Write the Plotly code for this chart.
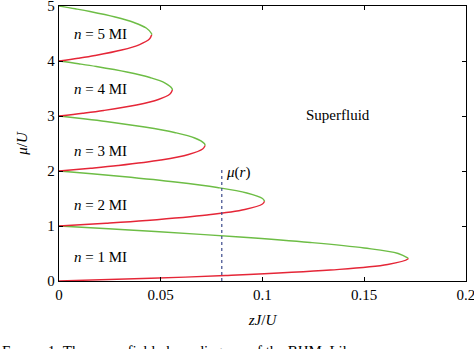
import plotly.graph_objects as go

# Mott-insulator lobe boundaries (chemical potential mu/U vs. critical hopping zJ/U)
lobe1_mu = [0.0, 0.05, 0.1, 0.2, 0.3, 0.4, 0.4142, 0.5, 0.6, 0.7, 0.8, 0.9, 0.95, 1.0]
lobe1_zj = [0.0, 0.04524, 0.08182, 0.13333, 0.16154, 0.17143, 0.17157, 0.16667, 0.15, 0.12353, 0.08889, 0.04737, 0.02436, 0.0]

lobe2_mu = [1.0, 1.05, 1.1, 1.2, 1.3, 1.4, 1.4495, 1.5, 1.6, 1.7, 1.8, 1.9, 1.95, 2.0]
lobe2_zj = [0.0, 0.02317, 0.04286, 0.07273, 0.0913, 0.1, 0.10102, 0.1, 0.09231, 0.07778, 0.05714, 0.03103, 0.0161, 0.0]

lobe3_mu = [2.0, 2.05, 2.1, 2.2, 2.3, 2.4, 2.4641, 2.5, 2.6, 2.7, 2.8, 2.9, 2.95, 3.0]
lobe3_zj = [0.0, 0.01557, 0.02903, 0.05, 0.06364, 0.07059, 0.0718, 0.07143, 0.06667, 0.05676, 0.04211, 0.02308, 0.01203, 0.0]

lobe4_mu = [3.0, 3.05, 3.1, 3.2, 3.3, 3.4, 3.4721, 3.5, 3.6, 3.7, 3.8, 3.9, 3.95, 4.0]
lobe4_zj = [0.0, 0.01173, 0.02195, 0.0381, 0.04884, 0.05455, 0.05573, 0.05556, 0.05217, 0.04468, 0.03333, 0.01837, 0.0096, 0.0]

lobe5_mu = [4.0, 4.05, 4.1, 4.2, 4.3, 4.4, 4.4772, 4.5, 4.6, 4.7, 4.8, 4.9, 4.95, 5.0]
lobe5_zj = [0.0, 0.00941, 0.01765, 0.03077, 0.03962, 0.04444, 0.04555, 0.04545, 0.04286, 0.03684, 0.02759, 0.01525, 0.00798, 0.0]

lobe_labels = ["1", "2", "3", "4", "5"]
label_mu = [0.44, 1.38, 2.36, 3.49, 4.49]
label_zj = 0.0205

# Local chemical potential probe line
probe_zj = [0.08, 0.08]
probe_mu = [0.0, 2.02]

x_ticks = [0, 0.05, 0.1, 0.15, 0.2]
x_tick_text = ["0", "0.05", "0.1", "0.15", "0.2"]
y_ticks = [0, 1, 2, 3, 4, 5]
y_tick_text = ["0", "1", "2", "3", "4", "5"]

GREEN = "#6dbd45"
RED = "#e52637"
SERIF = "Liberation Serif"

fig = go.Figure()

lobes = [(lobe1_mu, lobe1_zj), (lobe2_mu, lobe2_zj), (lobe3_mu, lobe3_zj),
         (lobe4_mu, lobe4_zj), (lobe5_mu, lobe5_zj)]

for mu, zj in lobes:
    tip = zj.index(max(zj))
    # lower branch (below the tip) in red
    fig.add_trace(go.Scatter(x=zj[:tip + 1], y=mu[:tip + 1], mode="lines",
                             line=dict(color=RED, width=1.4, shape="spline"),
                             showlegend=False, hoverinfo="skip"))
    # upper branch (above the tip) in green
    fig.add_trace(go.Scatter(x=zj[tip:], y=mu[tip:], mode="lines",
                             line=dict(color=GREEN, width=1.4, shape="spline"),
                             showlegend=False, hoverinfo="skip"))

fig.add_trace(go.Scatter(x=probe_zj, y=probe_mu, mode="lines",
                         line=dict(color="#3b4a8c", width=1.2, dash="dot"),
                         showlegend=False, hoverinfo="skip"))

annotations = []
for lab, m in zip(lobe_labels, label_mu):
    annotations.append(dict(x=label_zj, y=m, xref="x", yref="y",
                            text=f"<i>n</i> = {lab} MI", showarrow=False,
                            font=dict(family=SERIF, size=15, color="black")))

annotations.append(dict(x=0.137, y=3.02, xref="x", yref="y", text="Superfluid",
                        showarrow=False, font=dict(family=SERIF, size=15, color="black")))
annotations.append(dict(x=0.0812, y=1.97, xref="x", yref="y",
                        text="<i>μ</i>(<i>r</i>)", showarrow=False, xanchor="left",
                        font=dict(family=SERIF, size=15, color="black")))
annotations.append(dict(x=-0.145, y=-0.255, xref="paper", yref="paper", xanchor="left",
                        yanchor="middle",
                        text="F<span style='font-size:11px'>IGURE</span> 1: The mean-field phase diagram of the BHM. Like",
                        showarrow=False, font=dict(family=SERIF, size=15, color="black")))

axis_common = dict(showline=True, linecolor="black", linewidth=1.3, mirror="ticks",
                   ticks="inside", ticklen=4, tickwidth=1, tickcolor="black",
                   showgrid=False, zeroline=False, ticklabeloverflow="allow",
                   automargin=False,
                   tickfont=dict(family=SERIF, size=15, color="black"))

fig.update_layout(
    width=474, height=349,
    margin=dict(l=59, r=8, t=6, b=68),
    paper_bgcolor="white", plot_bgcolor="white",
    xaxis=dict(range=[0, 0.20001], tickmode="array", tickvals=x_ticks, ticktext=x_tick_text,
               title=dict(text="<i>zJ</i>/<i>U</i>", standoff=12,
                          font=dict(family=SERIF, size=15, color="black")),
               **axis_common),
    yaxis=dict(range=[0, 5.0005], tickmode="array", tickvals=y_ticks, ticktext=y_tick_text,
               title=dict(text="<i>μ</i>/<i>U</i>", standoff=16,
                          font=dict(family=SERIF, size=15, color="black")),
               **axis_common),
    annotations=annotations,
)

fig.write_html("out.html")
